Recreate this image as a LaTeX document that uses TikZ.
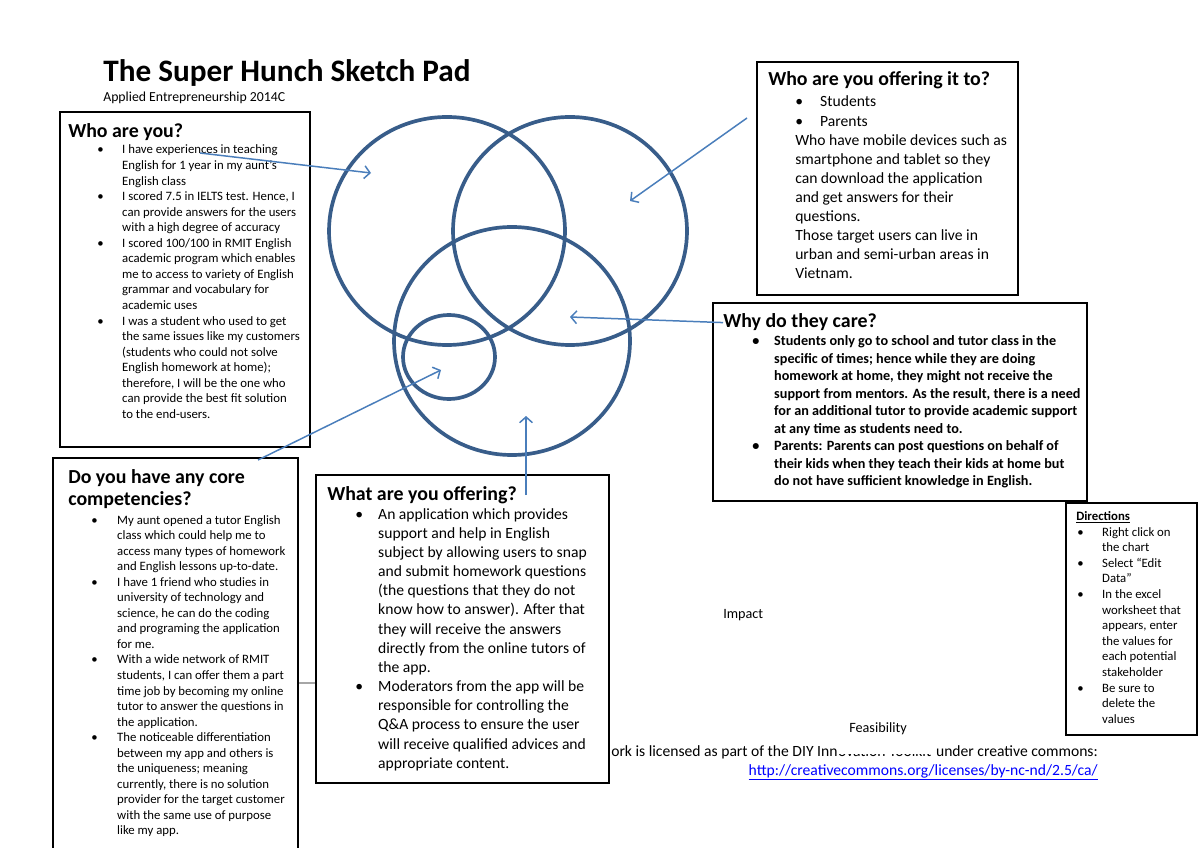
\documentclass[tikz,border=0pt]{standalone}
\usepackage{fontspec}
\setmainfont{Carlito}
\usepackage{array}
\usetikzlibrary{positioning,arrows.meta,fit}

\definecolor{vennblue}{HTML}{385D8A}
\definecolor{arrblue}{HTML}{4A7EBB}
\definecolor{linkblue}{HTML}{0000FF}
\newlength\px \setlength\px{0.7017pt}
% bullet list: #1 gap (px), #2 size, #3 skip, #4 rows
\newcommand{\bullets}[4]{{\fontsize{#2}{#3}\selectfont
  \begin{tabular}[t]{@{}p{#1\px}@{}l@{}}#4\end{tabular}}}

\begin{document}
\begin{tikzpicture}[x=0.2475mm, y=-0.2475mm,
  panel/.style={draw=black, line width=1.6pt, fill=white, inner sep=0pt},
  head/.style={anchor=base west, inner sep=0pt, font=\fontsize{14}{17}\selectfont\bfseries},
  txt/.style={anchor=base west, inner sep=0pt},
  lictxt/.style={inner sep=0pt, font=\fontsize{11}{13}\selectfont},
  venn/.style={draw=vennblue, line width=2.6pt},
  pointer/.style={draw=arrblue, line width=1.05pt, -{Straight Barb[length=4pt,width=9pt]}}]
\useasboundingbox (0,0) rectangle (1200,848);
% title
\node[txt, font=\fontsize{22}{26}\selectfont\bfseries] (title) at (103,82) {The Super Hunch Sketch Pad};
\node[txt, font=\fontsize{9.7}{12}\selectfont] (sub) at (103,102) {Applied Entrepreneurship 2014C};
% licence line, partly hidden
\node[lictxt, anchor=base west] (lic1) at (611,756) {ork is licensed as part of the DIY Inn};
\node[lictxt, anchor=base east] (lic3) at (1098,756) {under creative commons:};
\node[lictxt, anchor=base west] (lic2) at (lic1.base east) {ovation Toolkit};
\fill[white] (lic2.north west) rectangle ([yshift=1.1pt]lic2.base east);
\node[anchor=base east, inner sep=0pt, font=\fontsize{11}{13}\selectfont, text=linkblue] (url) at (1098,775)
  {\underline{http://creativecommons.org/licenses/by-nc-nd/2.5/ca/}};
\node[txt, font=\fontsize{10}{12}\selectfont] (impact) at (723,618) {Impact};
\node[txt, font=\fontsize{10}{12}\selectfont] (feas) at (849,732) {Feasibility};

% Who are you?
\node[panel, fit={(60,112) (310,447)}] (who) {};
\node[head] (whoH) at (68,138) {Who are you?};
\node[txt] (whoL) at (97,154) {\bullets{25}{9}{10.95}{%
  \textbullet & I have experiences in teaching\\
  & English for 1 year in my aunt’s\\
  & English class\\
  \textbullet & I scored 7.5 in IELTS test. Hence, I\\
  & can provide answers for the users\\
  & with a high degree of accuracy\\
  \textbullet & I scored 100/100 in RMIT English\\
  & academic program which enables\\
  & me to access to variety of English\\
  & grammar and vocabulary for\\
  & academic uses\\
  \textbullet & I was a student who used to get\\
  & the same issues like my customers\\
  & (students who could not solve\\
  & English homework at home);\\
  & therefore, I will be the one who\\
  & can provide the best fit solution\\
  & to the end-users.}};

% Who are you offering it to?
\node[panel, fit={(757,62) (1018,295)}] (target) {};
\node[head] (targetH) at (768,86) {Who are you offering it to?};
\node[txt] (targetL) at (795,107) {\bullets{25}{11}{13.4}{%
  \textbullet & Students\\
  \textbullet & Parents\\
  \multicolumn{2}{@{}l@{}}{Who have mobile devices such as}\\
  \multicolumn{2}{@{}l@{}}{smartphone and tablet so they}\\
  \multicolumn{2}{@{}l@{}}{can download the application}\\
  \multicolumn{2}{@{}l@{}}{and get answers for their}\\
  \multicolumn{2}{@{}l@{}}{questions.}\\
  \multicolumn{2}{@{}l@{}}{Those target users can live in}\\
  \multicolumn{2}{@{}l@{}}{urban and semi-urban areas in}\\
  \multicolumn{2}{@{}l@{}}{Vietnam.}}};

% Why do they care?
\node[panel, fit={(713,303) (1087,501)}] (why) {};
\node[head] (whyH) at (723,328) {Why do they care?};
\node[txt, font=\bfseries] (whyL) at (752,346) {\bullets{22}{10}{12.3}{%
  \textbullet & Students only go to school and tutor class in the\\
  & specific of times; hence while they are doing\\
  & homework at home, they might not receive the\\
  & support from mentors. As the result, there is a need\\
  & for an additional tutor to provide academic support\\
  & at any time as students need to.\\
  \textbullet & Parents: Parents can post questions on behalf of\\
  & their kids when they teach their kids at home but\\
  & do not have sufficient knowledge in English.}};

% Do you have any core competencies?
\node[panel, fit={(53,458) (298,852)}] (core) {};
\node[head] (coreH) at (68,483) {Do you have any core};
\node[head] (coreH2) at (68,505) {competencies?};
\node[txt] (coreL) at (91,524) {\bullets{26}{9}{10.95}{%
  \textbullet & My aunt opened a tutor English\\
  & class which could help me to\\
  & access many types of homework\\
  & and English lessons up-to-date.\\
  \textbullet & I have 1 friend who studies in\\
  & university of technology and\\
  & science, he  can do the coding\\
  & and programing the application\\
  & for me.\\
  \textbullet & With a wide network of RMIT\\
  & students, I can offer them a part\\
  & time job by becoming my online\\
  & tutor to answer the questions in\\
  & the application.\\
  \textbullet & The noticeable differentiation\\
  & between my app and others is\\
  & the uniqueness; meaning\\
  & currently, there is no solution\\
  & provider for the target customer\\
  & with the same use of purpose\\
  & like my app.}};

% What are you offering?
\node[panel, fit={(316,475) (609,783)}] (offer) {};
\node[head] (offerH) at (327,500) {What are you offering?};
\node[txt] (offerL) at (355,519) {\bullets{23}{11}{13.5}{%
  \textbullet & An application which provides\\
  & support and help in English\\
  & subject by allowing users to snap\\
  & and submit homework questions\\
  & (the questions that they do not\\
  & know how to answer). After that\\
  & they will receive the answers\\
  & directly from the online tutors of\\
  & the app.\\
  \textbullet & Moderators from the app will be\\
  & responsible for controlling the\\
  & Q\&A process to ensure the user\\
  & will receive qualified advices  and\\
  & appropriate content.}};

% Directions
\node[panel, fit={(1066,503) (1197,735)}] (dirs) {};
\node[txt, font=\fontsize{9}{11}\selectfont\bfseries] (dirsH) at (1076,520) {\underline{Directions}};
\node[txt] (dirsL) at (1077,536) {\bullets{25}{9}{11}{%
  \textbullet & Right click on\\
  & the chart\\
  \textbullet & Select “Edit\\
  & Data”\\
  \textbullet & In the excel\\
  & worksheet that\\
  & appears, enter\\
  & the values for\\
  & each potential\\
  & stakeholder\\
  \textbullet & Be sure to\\
  & delete the\\
  & values}};

% gray tie between the two lower boxes
\coordinate (tieY) at (0,683);
\draw[gray!70, line width=0.8pt] (core.east |- tieY) -- (offer.west |- tieY);

% venn circles
\draw[venn] (447,231) ellipse [x radius=118, y radius=114];
\draw[venn] (570,231) ellipse [x radius=117, y radius=114];
\draw[venn] (512,341) ellipse [x radius=118, y radius=114];
\draw[venn] (449,357) ellipse [x radius=46, y radius=42];

% arrows into the circles
\coordinate (whoFrom) at (200,153);
\coordinate (whoTip) at (371,173);
\coordinate (targetFrom) at (747,118);
\coordinate (targetTip) at (630,201);
\coordinate (whyTip) at (570,317);
\coordinate (coreFrom) at (258,460);
\coordinate (coreTip) at (441,370);
\coordinate (offerFrom) at (526,495);
\coordinate (offerTip) at (526,416);
\draw[pointer] (whoFrom) -- (whoTip);
\draw[pointer] (targetFrom) -- (targetTip);
\draw[pointer] (whyH.west) -- (whyTip);
\draw[pointer] (coreFrom) -- (coreTip);
\draw[pointer] (offerFrom) -- (offerTip);
\end{tikzpicture}
\end{document}
